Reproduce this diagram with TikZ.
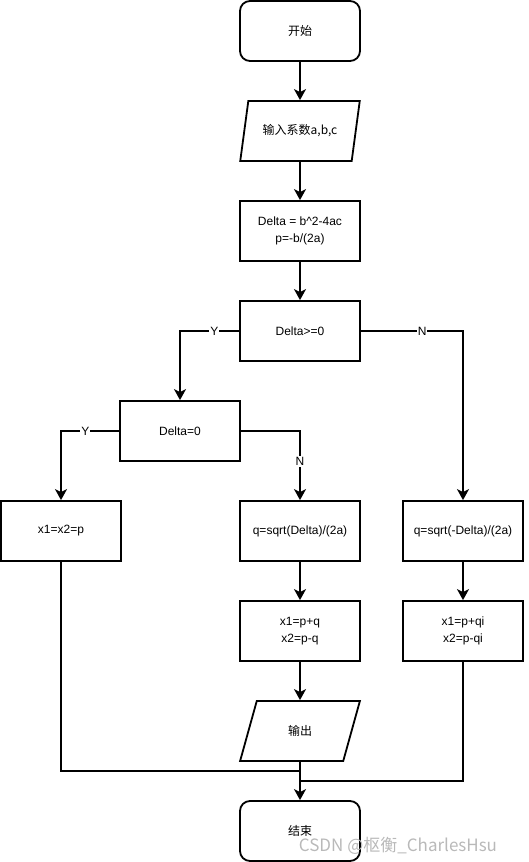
\documentclass[tikz,border=0pt]{standalone}
\usepackage{fontspec}
\setmainfont{Liberation Sans}
\newfontfamily\cjk{Noto Sans CJK SC}
\usetikzlibrary{arrows.meta,shapes.geometric}

\tikzset{
  every node/.style={font=\fontsize{12}{16.5}\selectfont, align=center},
  terminal/.style={draw, line width=1.8pt, rounded corners=10pt, minimum width=120pt, minimum height=60pt},
  procbox/.style={draw, line width=1.8pt, minimum width=120pt, minimum height=60pt},
  iobox/.style={draw, line width=1.8pt, trapezium, trapezium left angle=71.57, trapezium right angle=108.43,
    trapezium stretches=true, minimum width=120pt, minimum height=60pt},
  flow/.style={line width=1.8pt, -{Stealth[length=11pt,width=12pt,inset=3pt]}},
  link/.style={line width=1.8pt},
  yn/.style={fill=white, inner sep=1pt}
}

\begin{document}
\begin{tikzpicture}[x=1pt, y=-1pt]
	\useasboundingbox (0,0) rectangle (528,862);

	% main column
	\node[terminal] (start) at (300,31) {\cjk 开始};
	\node[iobox] (input) at (300,131) {\cjk 输入系数a,b,c};
	\node[procbox] (delta) at (300,231) {Delta = b\^{}2-4ac\\p=-b/(2a)};
	\node[procbox] (test) at (300,331) {Delta>=0};

	% branches
	\node[procbox] (zero) at (180,431) {Delta=0};
	\node[procbox] (dbl) at (61,531) {x1=x2=p};
	\node[procbox] (real) at (300,531) {q=sqrt(Delta)/(2a)};
	\node[procbox] (cplx) at (463,531) {q=sqrt(-Delta)/(2a)};
	\node[procbox] (rroots) at (300,631) {x1=p+q\\x2=p-q};
	\node[procbox] (croots) at (463,631) {x1=p+qi\\x2=p-qi};
	\node[iobox] (out) at (300,731) {\cjk 输出};
	\node[terminal] (stop) at (300,831) {\cjk 结束};

	\coordinate (joinL) at (300,771);
	\coordinate (joinR) at (300,781);

	\draw[flow] (start) -- (input);
	\draw[flow] (input) -- (delta);
	\draw[flow] (delta) -- (test);
	\draw[flow] (test.west) -| node[yn, pos=0.21] {Y} (zero.north);
	\draw[flow] (test.east) -| node[yn, pos=0.3] {N} (cplx.north);
	\draw[flow] (zero.west) -| node[yn, pos=0.29] {Y} (dbl.north);
	\draw[flow] (zero.east) -| node[yn, pos=0.72] {N} (real.north);
	\draw[flow] (real) -- (rroots);
	\draw[flow] (cplx) -- (croots);
	\draw[flow] (rroots) -- (out);
	\draw[link] (dbl.south) |- (joinL);
	\draw[link] (croots.south) |- (joinR);
	\draw[flow] (out) -- (stop);

	% watermark
	\node[text=gray!55, font=\cjk\fontsize{17}{19}\selectfont] (mark) at (398,846) {CSDN @枢衡\_CharlesHsu};
\end{tikzpicture}
\end{document}
